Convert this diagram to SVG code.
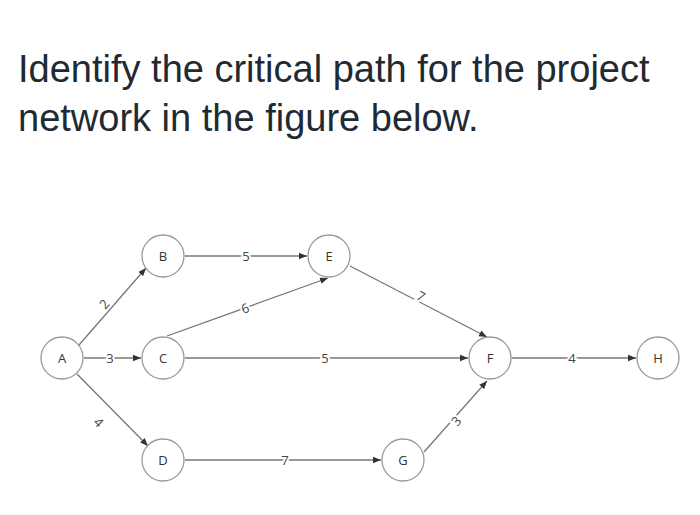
<svg xmlns="http://www.w3.org/2000/svg" width="700" height="515" viewBox="0 0 700 515">
<defs>
<marker id="ar" viewBox="0 0 10 10" refX="10" refY="5" markerWidth="8" markerHeight="8" markerUnits="userSpaceOnUse" orient="auto"><path d="M0,1 L10,5 L0,9 z" fill="#333"/></marker>
<style>
.h{font-family:"Liberation Sans",Arial,sans-serif;font-size:38px;fill:#1f2a33}
.n circle{fill:#fff;stroke:#999;stroke-width:1.3}
.n text{font-family:"Open Sans","Liberation Sans",sans-serif;font-size:13px;fill:#333;text-anchor:middle;dominant-baseline:central}
.e line{stroke:#777;stroke-width:1.3;marker-end:url(#ar)}
.l{font-family:"Open Sans","Liberation Sans",sans-serif;font-size:13px;fill:#444;text-anchor:middle;dominant-baseline:central;stroke:#fff;stroke-width:4;paint-order:stroke}
</style>
</defs>
<rect width="700" height="515" fill="#fff"/>
<text class="h" x="18" y="82">Identify the critical path for the project</text>
<text class="h" x="18" y="131">network in the figure below.</text>
<g id="connectors" class="e">
<line x1="79" y1="345" x2="146" y2="268"/>
<line x1="84" y1="358" x2="141" y2="358"/>
<line x1="77" y1="374" x2="148" y2="446"/>
<line x1="185" y1="256" x2="307" y2="256"/>
<line x1="167" y1="336" x2="328" y2="278"/>
<line x1="185" y1="358" x2="468" y2="358"/>
<line x1="350" y1="266" x2="487" y2="337"/>
<line x1="185" y1="460" x2="381" y2="460"/>
<line x1="424" y1="452" x2="487" y2="381"/>
<line x1="512" y1="358" x2="636" y2="358"/>
<text class="l" transform="translate(104,304) rotate(-48)">2</text>
<text class="l" transform="translate(110,358)">3</text>
<text class="l" transform="translate(99,422) rotate(45)">4</text>
<text class="l" transform="translate(246,256)">5</text>
<text class="l" transform="translate(245,308) rotate(-20)">6</text>
<text class="l" transform="translate(325,358)">5</text>
<text class="l" transform="translate(421,296) rotate(27)">7</text>
<text class="l" transform="translate(285,460)">7</text>
<text class="l" transform="translate(456,421) rotate(-48)">3</text>
<text class="l" transform="translate(572,358)">4</text>
</g>
<g id="A" class="n"><circle cx="62" cy="358" r="21"/><text x="62" y="358">A</text></g>
<g id="B" class="n"><circle cx="163" cy="256" r="21"/><text x="163" y="256">B</text></g>
<g id="C" class="n"><circle cx="163" cy="358" r="21"/><text x="163" y="358">C</text></g>
<g id="D" class="n"><circle cx="163" cy="460" r="21"/><text x="163" y="460">D</text></g>
<g id="E" class="n"><circle cx="329" cy="256" r="21"/><text x="329" y="256">E</text></g>
<g id="F" class="n"><circle cx="490" cy="358" r="21"/><text x="490" y="358">F</text></g>
<g id="G" class="n"><circle cx="403" cy="460" r="21"/><text x="403" y="460">G</text></g>
<g id="H" class="n"><circle cx="658" cy="358" r="21"/><text x="658" y="358">H</text></g>
</svg>
